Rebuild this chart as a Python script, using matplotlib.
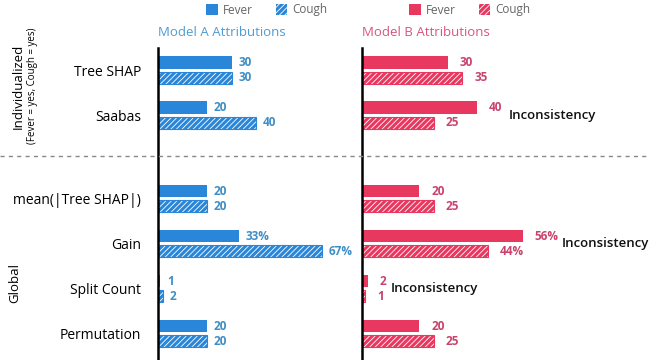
import matplotlib.pyplot as plt
import matplotlib.transforms as mtransforms
from matplotlib.lines import Line2D

plt.rcParams['font.family'] = ['Open Sans', 'DejaVu Sans']
plt.rcParams['hatch.linewidth'] = 0.6

# данные
methods = ['Tree SHAP', 'Saabas', 'mean(|Tree SHAP|)', 'Gain', 'Split Count', 'Permutation']
fever_a = [30, 20, 20, 33, 1, 20]
cough_a = [30, 40, 20, 67, 2, 20]
fever_b = [30, 40, 20, 56, 2, 20]
cough_b = [35, 25, 25, 44, 1, 25]
labels_fever_a = ['30', '20', '20', '33%', '1', '20']
labels_cough_a = ['30', '40', '20', '67%', '2', '20']
labels_fever_b = ['30', '40', '20', '56%', '2', '20']
labels_cough_b = ['35', '25', '25', '44%', '1', '25']
inconsistent = ['Saabas', 'Gain', 'Split Count']

blue = '#2a86d8'
blue_txt = '#3f8ec6'
pink = '#e8385f'
pink_txt = '#c9436c'

W, H = 661, 360
fig = plt.figure(figsize=(W / 100, H / 100), dpi=100)

# позиции групп: отдельный промежуток между индивидуальными и глобальными
pos = [0, 1, 2.86, 3.86, 4.86, 5.86]
off = 0.167
bh = 0.27

axA = fig.add_axes([158 / W, 0, (330 - 158) / W, (H - 48) / H])
axB = fig.add_axes([362 / W, 0, (W - 362) / W, (H - 48) / H])


def draw(ax, fever, cough, lf, lc, color, tcolor, xmax):
    yf = [p - off for p in pos]
    yc = [p + off for p in pos]
    b1 = ax.barh(yf, fever, height=bh, color=color, linewidth=0, label='Fever')
    # штриховка: белые линии по цветной заливке + контур
    b2 = ax.barh(yc, cough, height=bh, facecolor=color, edgecolor='white',
                 hatch='//////', linewidth=0, label='Cough')
    ax.barh(yc, cough, height=bh, fill=False, edgecolor=color, linewidth=0.8)
    for y, v, s in zip(yf, fever, lf):
        ax.text(v + xmax * 0.04, y, s, va='center', ha='left', fontsize=8.5,
                fontweight='bold', color=tcolor, clip_on=False)
    for y, v, s in zip(yc, cough, lc):
        ax.text(v + xmax * 0.04, y, s, va='center', ha='left', fontsize=8.5,
                fontweight='bold', color=tcolor, clip_on=False)
    ax.set_xlim(0, xmax)
    ax.set_ylim(6.44, -0.49)
    for s in ['top', 'right', 'bottom']:
        ax.spines[s].set_visible(False)
    ax.spines['left'].set_linewidth(1.8)
    ax.set_xticks([])
    return b1, b2


hA = draw(axA, fever_a, cough_a, labels_fever_a, labels_cough_a, blue, blue_txt, 172 / 2.45)
hB = draw(axB, fever_b, cough_b, labels_fever_b, labels_cough_b, pink, pink_txt, 299 / 2.87)

axA.set_yticks(pos, methods, fontsize=10)
axA.tick_params(axis='y', length=0, pad=12)
axB.set_yticks([])

# заголовки моделей
fig.text(158 / W, 1 - 32 / H, 'Model A Attributions', color='#4f9bd4', fontsize=9.5,
         ha='left', va='center')
fig.text(362 / W, 1 - 32 / H, 'Model B Attributions', color='#d9557a', fontsize=9.5,
         ha='left', va='center')

# легенды
for ax, h, x0 in [(axA, hA, 206), (axB, hB, 409)]:
    ax.legend(h, ['Fever', 'Cough'], ncol=2, frameon=False, loc='center left',
              bbox_to_anchor=(x0 / W, 1 - 10 / H), bbox_transform=fig.transFigure,
              fontsize=8.5, handlelength=1.0, handleheight=1.0, handletextpad=0.45,
              columnspacing=1.9, borderpad=0, borderaxespad=0, labelcolor='#666666')

# надписи о несогласованности
xtext = {'Saabas': 51.2, 'Gain': 69.7, 'Split Count': 10.1}
for m in inconsistent:
    i = methods.index(m)
    axB.text(xtext[m], pos[i], 'Inconsistency', fontsize=9.5, fontweight='semibold',
             va='center', ha='left', color='#111111')

# разделитель
tr = mtransforms.blended_transform_factory(fig.transFigure, axA.transData)
fig.add_artist(Line2D([0, 648 / W], [1.91, 1.91], transform=tr, color='#888888',
                      linestyle=(0, (3, 3)), linewidth=1))

# подписи групп
fig.text(18 / W, 1 - 86 / H, 'Individualized', rotation=90, fontsize=9.5,
         ha='center', va='center')
fig.text(33 / W, 1 - 86 / H, '(Fever = yes, Cough = yes)', rotation=90, fontsize=7,
         ha='center', va='center')
fig.text(15 / W, 1 - 283 / H, 'Global', rotation=90, fontsize=9.5,
         ha='center', va='center')

fig.savefig('out.png', dpi=100)
